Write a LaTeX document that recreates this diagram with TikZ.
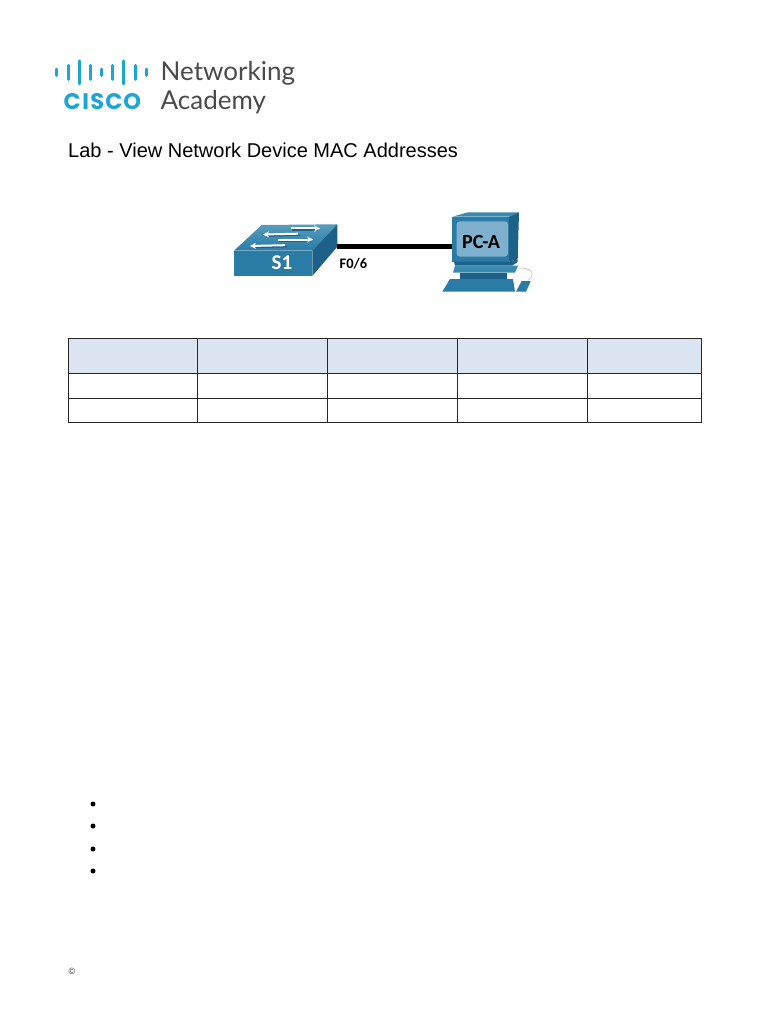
\documentclass[tikz,border=0pt]{standalone}
\usepackage{fontspec}
\setmainfont{Liberation Sans}
\newfontfamily\carl{Carlito}
\newfontfamily\lat{Lato}
\newfontfamily\pop{Poppins}
\usetikzlibrary{arrows.meta}
\definecolor{cyanlogo}{HTML}{1BA6D6}
\definecolor{swfront}{HTML}{2A7CA6}
\definecolor{swtop}{HTML}{3A8AB0}
\definecolor{swside}{HTML}{1D6088}
\definecolor{pcscreen}{HTML}{7FB1CE}
\definecolor{hdr}{HTML}{DBE5F1}
\definecolor{logotext}{HTML}{4A4A4A}
\tikzset{
 logobar/.style={line width=3pt,cyanlogo,line cap=round},
 cell/.style={draw=black!85,line width=1pt},
 swarrow/.style={white,line width=2pt,-{Stealth[length=6pt,width=6pt]}},
 swshadow/.style={swside,line width=1.4pt},
 lbl/.style={inner sep=0pt,anchor=base west},
 bul/.style={circle,fill=black,inner sep=0pt,minimum size=5pt},
}
\begin{document}
\begin{tikzpicture}[x=1pt,y=-1pt]
\useasboundingbox (0,0) rectangle (768,1024);
\fill[white] (0,0) rectangle (768,1024);
% logo bars
\foreach \x/\h in {56.7/3.2,68.3/7,79.3/11.5,90/7,101/3.2,112/7,123.3/11.5,135/7,146/3.2}
  \draw[logobar] (\x,72.3-\h) -- (\x,72.3+\h);
\node[lbl,text=cyanlogo] (cisco) at (63.5,109.5) {\pop\bfseries\fontsize{22.5}{24}\selectfont C\kern1.5pt I\kern1.5pt S\kern1pt C\kern1pt O};
\node[lbl,text=cyanlogo] (dot) at (143,109) {\fontsize{5}{6}\selectfont .};
\node[lbl,text=logotext] (net) at (160.5,81) {\lat\fontsize{26}{30}\selectfont Networking};
\node[lbl,text=logotext] (aca) at (160.5,110) {\lat\fontsize{26}{30}\selectfont Academy};
\node[lbl] (title) at (68,157.5) {\fontsize{20}{24}\selectfont Lab - View Network Device MAC Addresses};
% switch
\shade[bottom color=swfront,top color=swtop!85!white] (234,250.7) -- (261.7,225) -- (337.3,224.3) -- (312.3,250.7) -- cycle;
\fill[swfront] (234,250.7) rectangle (312.3,276);
\fill[swside] (312.3,250.7) -- (337.3,224.3) -- (337.3,246.7) -- (312.3,276) -- cycle;
\draw[swshadow] (292,230) -- (318,230);
\draw[swshadow] (300,235.2) -- (266,236);
\draw[swshadow] (279,241) -- (311,241);
\draw[swshadow] (287,246.7) -- (253,247.5);
\draw[swarrow] (290.5,228.5) -- (320,228.5);
\draw[swarrow] (298,233.7) -- (263,234.5);
\draw[swarrow] (278,239.5) -- (313,239.5);
\draw[swarrow] (285,245.2) -- (250,246);
\node[inner sep=0pt,text=white] (S1) at (282,263) {\carl\bfseries\fontsize{21}{22}\selectfont S1};
\coordinate (swport) at (337.3,246.3);
% pc
\fill[swtop] (452.5,216.7) -- (468,212.3) -- (519,212.3) -- (509,216.7) -- cycle;
\fill[swside] (509,216.7) -- (519,212.3) -- (517.7,259.3) -- (508.5,261.7) -- cycle;
\fill[swfront] (452.3,216.7) rectangle (509,261.7);
\fill[pcscreen,rounded corners=3pt] (456.5,221.5) rectangle (508,256.5);
\fill[swside] (454,261.7) -- (508.5,261.7) -- (517.7,259.3) -- (517.7,262) -- (512,265.7) -- (455,265.7) -- cycle;
\fill[swtop] (453,272.7) -- (515,272.7) -- (518,265.7) -- (455,265.7) -- cycle;
\fill[swside] (460,272.7) rectangle (507,279);
\fill[swfront] (442.3,291.7) -- (515,291.7) -- (513,279) -- (450,279) -- cycle;
\fill[swfront] (516,291.7) -- (526,291.7) -- (530.7,281) -- (521.7,281) -- cycle;
\draw[black!30,line width=.5pt] (518.3,268.3) .. controls (528,267) and (538,272) .. (528,280.5);
\node[inner sep=0pt] (PCA) at (481,242.5) {\carl\bfseries\fontsize{20}{20}\selectfont PC-A};
\coordinate (pcport) at (452.3,246.3);
\draw[black,line width=5pt] (swport) -- (pcport);
\node[lbl] (port) at (339.5,268) {\carl\bfseries\fontsize{14.5}{15}\selectfont F0/6};
% table
\fill[hdr] (68,338) rectangle (701,373);
\foreach \xa/\xb in {68/197,197/327,327/457,457/587,587/701}
  \foreach \ya/\yb in {338/373,373/398,398/422}
    \draw[cell] (\xa,\ya) rectangle (\xb,\yb);
% bullets
\foreach \y [count=\i] in {804,826,849,871}
  \node[bul] (b\i) at (93,\y) {};
\node[inner sep=0pt,text=black!80] (copy) at (72,971) {\fontsize{9}{10}\selectfont ©};
\end{tikzpicture}
\end{document}
